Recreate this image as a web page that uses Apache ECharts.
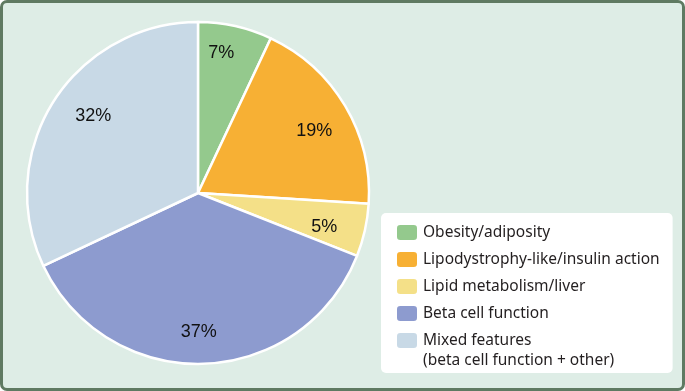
<!DOCTYPE html>
<html>
<head>
<meta charset="utf-8">
<script src="https://cdn.jsdelivr.net/npm/echarts@6/dist/echarts.min.js"></script>
<style>
  html, body { margin: 0; padding: 0; background: #ffffff; }
  #frame {
    position: absolute; left: 0; top: 0; width: 685px; height: 391px;
    box-sizing: border-box; border: 3px solid #5f7a62; border-radius: 7px;
    background: #deede6;
  }
  #chart { position: absolute; left: 0; top: 0; width: 685px; height: 391px; }
</style>
</head>
<body>
<div id="frame"></div>
<div id="chart"></div>
<script>
const chart = echarts.init(document.getElementById("chart"));

// categories and shares (%), clockwise from 12 o'clock
const categories = [
  "Obesity/adiposity",
  "Lipodystrophy-like/insulin action",
  "Lipid metabolism/liver",
  "Beta cell function",
  "Mixed features\n(beta cell function + other)"
];
const shares = [7, 19, 5, 37, 32];
const colors = ["#94c98d", "#f7b034", "#f4e088", "#8d9bcf", "#c8d9e6"];
// nudges to move the percent labels outward like the original
const labelOffsets = [[4, -54], [40, -17], [40, 15], [-2, 51], [-30, -30]];

chart.setOption({
  backgroundColor: "transparent",
  animation: false,
  legend: {
    orient: "vertical",
    left: 381,
    top: 213,
    height: 260,
    backgroundColor: "#ffffff",
    borderRadius: 5,
    padding: [10, 13, 4, 14],
    itemWidth: 22,
    itemHeight: 17,
    itemGap: 8,
    icon: "roundRect",
    // two-line entry: first line beside the swatch, second hangs below it
    formatter: name => {
      const parts = name.split("\n");
      if (parts.length < 2) return name;
      return "{a|" + parts[0] + "}\n{b|" + parts[1] + "}";
    },
    textStyle: {
      fontFamily: "Noto Sans",
      fontSize: 15.5,
      color: "#231f20",
      lineHeight: 18,
      rich: {
        a: { fontFamily: "Noto Sans", fontSize: 15.5, color: "#231f20", lineHeight: 17 },
        b: {
          fontFamily: "Noto Sans", fontSize: 15.5, color: "#231f20",
          lineHeight: 0, verticalAlign: "top", padding: [4, 0, 0, 0]
        }
      }
    }
  },
  series: [
    {
      type: "pie",
      center: [198, 193],
      radius: [0, 171],
      startAngle: 90,
      clockwise: true,
      silent: true,
      itemStyle: { borderColor: "#ffffff", borderWidth: 2.5 },
      label: {
        show: true,
        position: "inside",
        fontFamily: "Liberation Sans",
        fontSize: 18,
        color: "#111111",
        formatter: p => p.value + "%"
      },
      labelLine: { show: false },
      data: categories.map((c, i) => ({
        name: c,
        value: shares[i],
        itemStyle: { color: colors[i] },
        label: { offset: labelOffsets[i] }
      }))
    }
  ]
});
</script>
</body>
</html>
